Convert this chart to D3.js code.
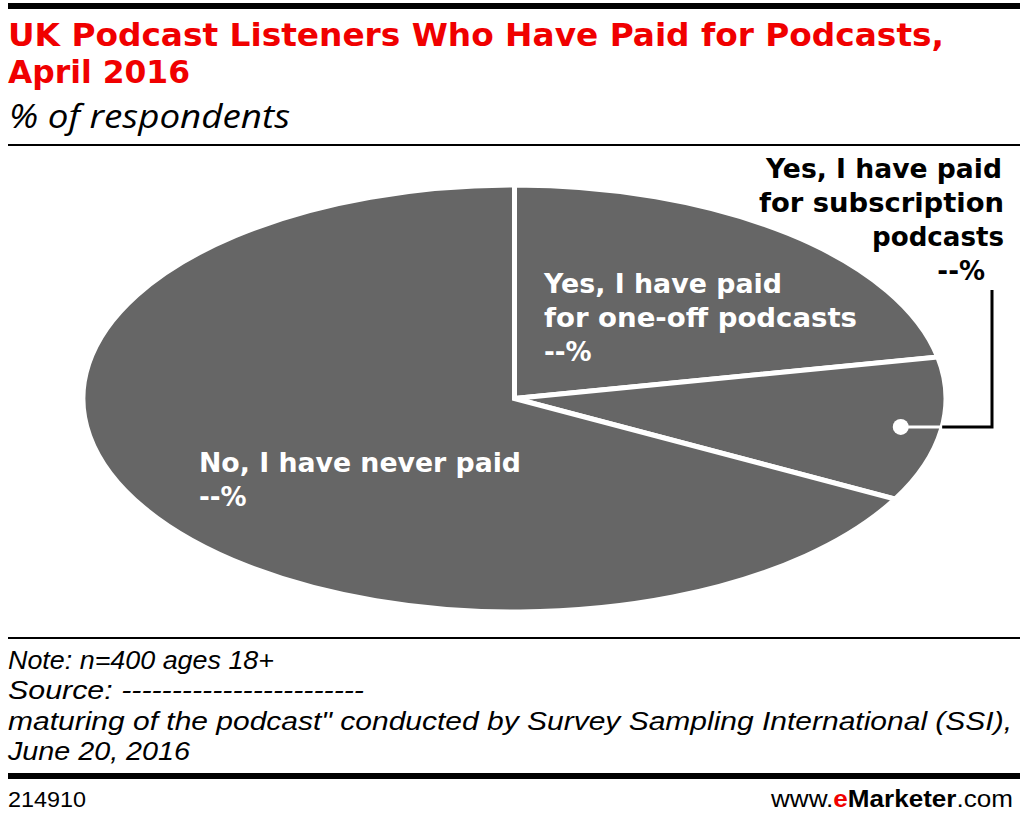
<!DOCTYPE html>
<html><head><meta charset="utf-8">
<script src="https://cdn.jsdelivr.net/npm/d3@7"></script>
<style>body{margin:0;background:#fff}svg{display:block}</style>
</head><body>
<svg id="c" width="1027" height="819"></svg>
<script>
const categories = ["Yes, I have paid for one-off podcasts", "Yes, I have paid for subscription podcasts", "No, I have never paid"];
const values = [21.9, 10.9, 67.2];
const valueLabels = ["--%", "--%", "--%"];

const svg = d3.select("#c");
const sans = "'DejaVu Sans', 'Liberation Sans', Arial, sans-serif";
const note = "'Open Sans', 'DejaVu Sans', sans-serif";
const lib = "'Liberation Sans', Arial, sans-serif";

function fit(sel, w) { if (w) sel.attr("textLength", w).attr("lengthAdjust", "spacingAndGlyphs"); return sel; }

// header
svg.append("rect").attr("x", 8).attr("y", 3).attr("width", 1012).attr("height", 6).attr("fill", "#000");
const title = svg.append("text").attr("fill", "#f00000").attr("font-family", sans).attr("font-weight", "bold").attr("font-size", 32);
fit(title.append("tspan").attr("x", 8).attr("y", 46).text("UK Podcast Listeners Who Have Paid for Podcasts,"), 936);
fit(title.append("tspan").attr("x", 8).attr("y", 83).text("April 2016"), 182);
fit(svg.append("text").attr("x", 9).attr("y", 128).attr("font-family", note).attr("font-style", "italic").attr("font-size", 33).attr("fill", "#000").text("% of respondents"), 281);
svg.append("rect").attr("x", 8).attr("y", 144).attr("width", 1012).attr("height", 2).attr("fill", "#000");

// pie drawn on a unit circle, scaled into an ellipse
const cx = 514.5, cy = 398.5, rx = 431.5, ry = 213.5;
const pie = d3.pie().sort(null).value(d => d);
const arcs = pie(values);
const arc = d3.arc().innerRadius(0).outerRadius(1);
const g = svg.append("g").attr("transform", `translate(${cx},${cy}) scale(${rx},${ry})`);
g.selectAll("path").data(arcs).join("path")
  .attr("d", arc).attr("fill", "#666666")
  .attr("stroke", "#fff").attr("stroke-width", 5).attr("vector-effect", "non-scaling-stroke");

// callout for subscription slice
const sub = arcs[1];
const mid = (sub.startAngle + sub.endAngle) / 2;
const dotX = cx + rx * 0.905 * Math.sin(mid), dotY = cy - ry * 0.905 * Math.cos(mid);
const edgeX = cx + rx * Math.sqrt(1 - Math.pow((dotY - cy) / ry, 2));
svg.append("line").attr("x1", dotX).attr("y1", dotY).attr("x2", edgeX).attr("y2", dotY).attr("stroke", "#fff").attr("stroke-width", 3);
svg.append("circle").attr("cx", dotX).attr("cy", dotY).attr("r", 8).attr("fill", "#fff");
svg.append("path").attr("d", `M${edgeX},${dotY}H992V290`).attr("fill", "none").attr("stroke", "#000").attr("stroke-width", 3);

function label(xs, ys, lines, widths, fill, anchor) {
  const t = svg.append("text").attr("font-family", sans).attr("font-weight", "bold").attr("font-size", 26).attr("fill", fill).attr("text-anchor", anchor);
  lines.forEach((l, i) => fit(t.append("tspan").attr("x", xs[i]).attr("y", ys[i]).text(l), widths[i]));
}
label([1002, 1004, 1004, 985], [178, 212, 246, 280], ["Yes, I have paid", "for subscription", "podcasts", valueLabels[1]], [236, 245, 132, 0], "#000", "end");
label([544, 544, 544], [293, 327, 361], ["Yes, I have paid", "for one-off podcasts", valueLabels[0]], [238, 313, 0], "#fff", "start");
label([199, 199], [472, 506], ["No, I have never paid", valueLabels[2]], [322, 0], "#fff", "start");

// footer
svg.append("rect").attr("x", 8).attr("y", 637).attr("width", 1012).attr("height", 2).attr("fill", "#000");
const notes = ["Note: n=400 ages 18+", "Source: ------------------------", "maturing of the podcast\" conducted by Survey Sampling International (SSI),", "June 20, 2016"];
const noteW = [266, 356, 1004, 182];
notes.forEach((l, i) => fit(svg.append("text").attr("x", 8).attr("y", 669 + i * 30.3)
  .attr("font-family", lib).attr("font-style", "italic").attr("font-size", 25).attr("fill", "#000").text(l), noteW[i]));
svg.append("rect").attr("x", 8).attr("y", 773).attr("width", 1012).attr("height", 6).attr("fill", "#000");
fit(svg.append("text").attr("x", 8).attr("y", 807).attr("font-family", lib).attr("font-size", 22).attr("fill", "#000").text("214910"), 78);
const brand = svg.append("text").attr("x", 1013).attr("y", 807).attr("text-anchor", "end").attr("font-family", lib).attr("font-size", 24).attr("fill", "#000");
fit(brand, 242);
brand.append("tspan").text("www.");
brand.append("tspan").attr("font-weight", "bold").attr("fill", "#f00000").text("e");
brand.append("tspan").attr("font-weight", "bold").text("Marketer");
brand.append("tspan").text(".com");
</script>
</body></html>
